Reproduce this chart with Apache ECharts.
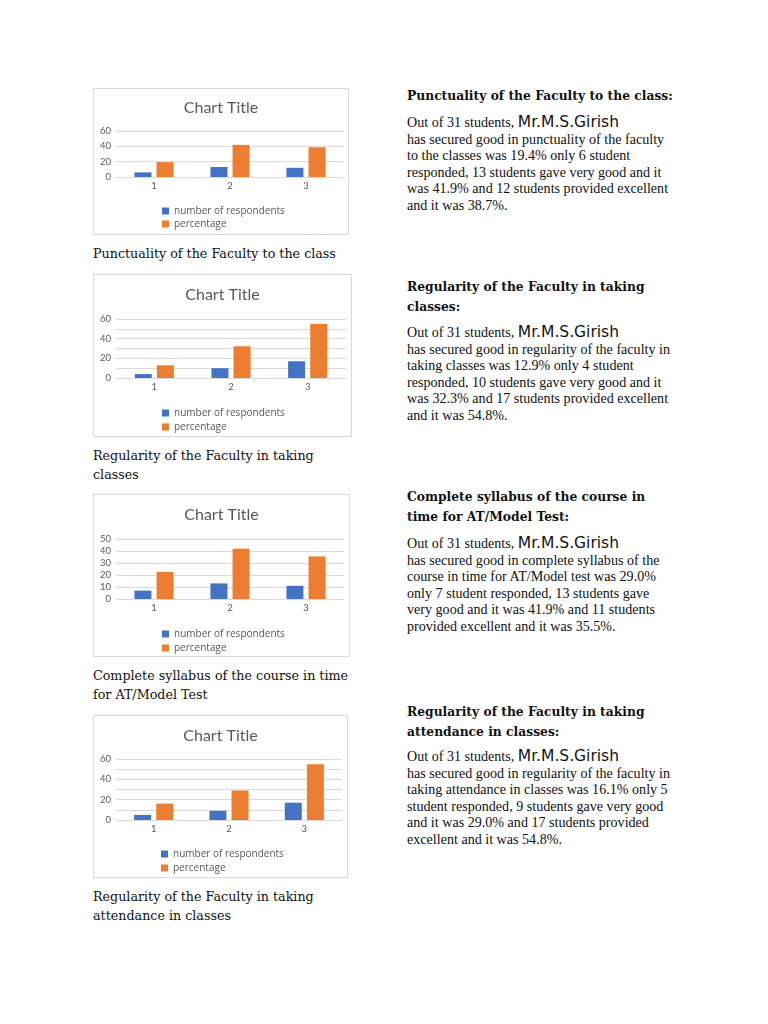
<!DOCTYPE html>
<html>
<head>
<meta charset="utf-8">
<script src="https://cdn.jsdelivr.net/npm/echarts@6/dist/echarts.min.js"></script>
<style>
  html, body { margin:0; padding:0; background:#fff; width:768px; height:1024px; overflow:hidden; }
  .chart { position:absolute; border:1px solid #d9d9d9; box-sizing:border-box; }
  .cap { position:absolute; left:93px; font-family:"DejaVu Serif",serif; font-size:12.7px; line-height:19px; color:#111; white-space:nowrap; }
  .head { position:absolute; left:407px; font-family:"DejaVu Serif",serif; font-weight:bold; font-size:12.3px; line-height:19.5px; color:#111; white-space:nowrap; }
  .body { position:absolute; left:407px; font-family:"Liberation Serif","Times New Roman",serif; font-size:14.1px; line-height:16.6px; color:#111; white-space:nowrap; }
  .name { font-family:"DejaVu Sans",sans-serif; font-size:15.5px; }
</style>
</head>
<body>
<div id="c1" class="chart" style="left:93px;top:88px;width:256px;height:147px;"></div>
<div id="c2" class="chart" style="left:93px;top:274px;width:259px;height:163px;"></div>
<div id="c3" class="chart" style="left:93px;top:494px;width:257px;height:163px;"></div>
<div id="c4" class="chart" style="left:93px;top:715px;width:255px;height:163px;"></div>

<div class="cap" style="top:244px;">Punctuality of the Faculty to the class</div>
<div class="cap" style="top:446px;">Regularity of the Faculty in taking<br>classes</div>
<div class="cap" style="top:666px;">Complete syllabus of the course in time<br>for AT/Model Test</div>
<div class="cap" style="top:887px;">Regularity of the Faculty in taking<br>attendance in classes</div>

<div class="head" style="top:86px;">Punctuality of the Faculty to the class:</div>
<div class="body" style="top:114px;">Out of 31 students, <span class="name">Mr.M.S.Girish</span><br>has secured good in punctuality of the faculty<br>to the classes was 19.4% only 6 student<br>responded, 13 students gave very good and it<br>was 41.9% and 12 students provided excellent<br>and it was 38.7%.</div>

<div class="head" style="top:277px;">Regularity of the Faculty in taking<br>classes:</div>
<div class="body" style="top:324px;">Out of 31 students, <span class="name">Mr.M.S.Girish</span><br>has secured good in regularity of the faculty in<br>taking classes was 12.9% only 4 student<br>responded, 10 students gave very good and it<br>was 32.3% and 17 students provided excellent<br>and it was 54.8%.</div>

<div class="head" style="top:487px;">Complete syllabus of the course in<br>time for AT/Model Test:</div>
<div class="body" style="top:535px;">Out of 31 students, <span class="name">Mr.M.S.Girish</span><br>has secured good in complete syllabus of the<br>course in time for AT/Model test was 29.0%<br>only 7 student responded, 13 students gave<br>very good and it was 41.9% and 11 students<br>provided excellent and it was 35.5%.</div>

<div class="head" style="top:702px;">Regularity of the Faculty in taking<br>attendance in classes:</div>
<div class="body" style="top:748px;">Out of 31 students, <span class="name">Mr.M.S.Girish</span><br>has secured good in regularity of the faculty in<br>taking attendance in classes was 16.1% only 5<br>student responded, 9 students gave very good<br>and it was 29.0% and 17 students provided<br>excellent and it was 54.8%.</div>

<script>
const categories = ['1', '2', '3'];
const seriesNames = ['number of respondents', 'percentage'];
const chartTitle = 'Chart Title';

const punctualityRespondents = [6, 13, 12];
const punctualityPercentage = [19.4, 41.9, 38.7];

const regularityRespondents = [4, 10, 17];
const regularityPercentage = [12.9, 32.3, 54.8];

const syllabusRespondents = [7, 13, 11];
const syllabusPercentage = [22.6, 41.9, 35.5];

const attendanceRespondents = [5, 9, 17];
const attendancePercentage = [16.1, 29.0, 54.8];

const FONT = '"Open Sans", Lato, sans-serif';
const TITLE_FONT = 'Lato, "Open Sans", sans-serif';
const GREY = '#595959';

function legendItem(name, left, top) {
  return {
    orient: 'horizontal', left: left, top: top,
    itemWidth: 7, itemHeight: 7, icon: 'rect',
    textStyle: { fontFamily: FONT, fontSize: 10, color: GREY, lineHeight: 12 },
    data: [name]
  };
}

function build(id, resp, pct, cfg) {
  const chart = echarts.init(document.getElementById(id), null, { renderer: 'canvas' });
  chart.setOption({
    animation: false,
    title: {
      text: chartTitle, left: 'center', top: cfg.titleTop,
      textStyle: { fontFamily: TITLE_FONT, fontSize: 16, fontWeight: 'normal', color: GREY }
    },
    legend: [
      legendItem(seriesNames[0], cfg.legendLeft, cfg.legendTop),
      legendItem(seriesNames[1], cfg.legendLeft, cfg.legendTop + cfg.legendStep)
    ],
    grid: { left: cfg.left, right: cfg.right, top: cfg.top, bottom: cfg.bottom, containLabel: false },
    xAxis: {
      type: 'category', data: categories,
      axisLine: { lineStyle: { color: '#d9d9d9' } },
      axisTick: { show: false },
      axisLabel: { fontFamily: TITLE_FONT, fontSize: 9.5, color: GREY, margin: 4 }
    },
    yAxis: {
      type: 'value', min: 0, max: cfg.max, interval: cfg.interval,
      axisLine: { show: false }, axisTick: { show: false },
      splitLine: { lineStyle: { color: '#d9d9d9' } },
      axisLabel: {
        fontFamily: TITLE_FONT, fontSize: 9.5, color: GREY, margin: 5,
        formatter: v => (v % cfg.labelStep === 0 ? String(v) : '')
      }
    },
    series: [
      { name: seriesNames[0], type: 'bar', data: resp, barWidth: 17, barGap: '30%',
        itemStyle: { color: '#4472C4' } },
      { name: seriesNames[1], type: 'bar', data: pct, barWidth: 17,
        itemStyle: { color: '#ED7D31' } }
    ]
  });
}

build('c1', punctualityRespondents, punctualityPercentage,
  { titleTop: 6, legendLeft: 63, legendTop: 111, legendStep: 13, left: 22, right: 4, top: 42, bottom: 57, max: 60, interval: 20, labelStep: 20 });
build('c2', regularityRespondents, regularityPercentage,
  { titleTop: 7, legendLeft: 63, legendTop: 127, legendStep: 14, left: 22, right: 5, top: 44, bottom: 58, max: 60, interval: 10, labelStep: 20 });
build('c3', syllabusRespondents, syllabusPercentage,
  { titleTop: 7, legendLeft: 63, legendTop: 128, legendStep: 14, left: 22, right: 5, top: 44, bottom: 57, max: 50, interval: 10, labelStep: 10 });
build('c4', attendanceRespondents, attendancePercentage,
  { titleTop: 7, legendLeft: 62, legendTop: 127, legendStep: 14, left: 22, right: 5, top: 43, bottom: 57, max: 60, interval: 10, labelStep: 20 });
</script>
</body>
</html>
